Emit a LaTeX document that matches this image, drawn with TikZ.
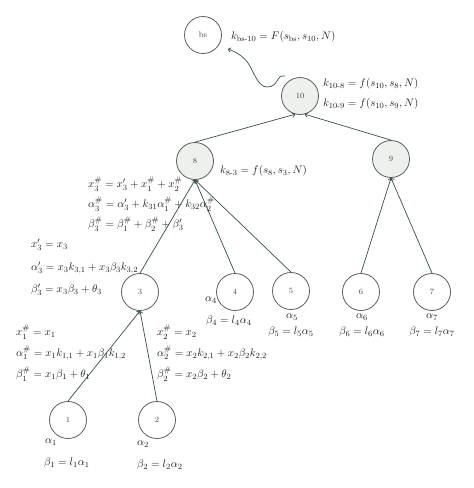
\documentclass[tikz,border=0pt]{standalone}
\usepackage{amsmath}
\usetikzlibrary{arrows.meta}
\definecolor{nodegray}{RGB}{90,95,95}
\definecolor{fillgray}{RGB}{238,240,238}
\definecolor{edgegreen}{RGB}{55,80,65}
\definecolor{textc}{RGB}{30,30,30}
\definecolor{numgray}{RGB}{70,70,70}
\begin{document}
\begin{tikzpicture}[x=1pt,y=-1pt,
  treenode/.style={circle,draw=nodegray,line width=0.8pt,minimum size=37pt,inner sep=0pt,font=\footnotesize,text=numgray},
  filled/.style={treenode,fill=fillgray},
  edge/.style={draw=edgegreen,line width=0.7pt,-{To[length=3pt,width=5pt]}},
  eq/.style={anchor=west,inner sep=0pt,font=\fontsize{11}{13}\selectfont,text=textc},
  eqc/.style={anchor=center,inner sep=0pt,font=\fontsize{11}{13}\selectfont,text=textc}]
\useasboundingbox (0,0) rectangle (474,488);
% nodes
\node[treenode] (bs) at (203,35) {bs};
\node[filled] (n10) at (300,96) {10};
\node[filled] (n8) at (195,161) {8};
\node[filled] (n9) at (391,159) {9};
\node[treenode] (n3) at (140,292) {3};
\node[treenode] (n4) at (235,292) {4};
\node[treenode] (n5) at (291,291) {5};
\node[treenode] (n6) at (361,292) {6};
\node[treenode] (n7) at (432,292) {7};
\node[treenode] (n1) at (68,420) {1};
\node[treenode] (n2) at (157,420) {2};
% edges
\draw[edge] (n1.north) -- (n3.south);
\draw[edge] (n2.north) -- (n3.south);
\draw[edge] (n3.north) -- (n8.south);
\draw[edge] (n4.north) -- (n8.south);
\draw[edge] (n5.north) -- (n8.south);
\draw[edge] (n6.north) -- (n9.south);
\draw[edge] (n7.north) -- (n9.south);
\draw[edge] (n8.north) -- (n10.255);
\draw[edge] (n9.north) -- (n10.285);
\coordinate (c10) at (285,76);
\coordinate (cbs) at (228,49);
\draw[edge] (c10) .. controls (276,74) and (279,87) .. (267,87)
  .. controls (258,87) and (254,72) .. (248,63)
  .. controls (243,56) and (236,52) .. (cbs);
% labels
\node[eq] (lbs) at (231,37) {$k_{\text{bs-}10} = F(s_{\text{bs}}, s_{10}, N)$};
\node[eq] (l108) at (323,84) {$k_{10\text{-}8} = f(s_{10}, s_8, N)$};
\node[eq] (l109) at (323,104) {$k_{10\text{-}9} = f(s_{10}, s_9, N)$};
\node[eq] (l83) at (220,171) {$k_{8\text{-}3} = f(s_8, s_3, N)$};
\node[eq] (a1) at (88,184) {$x_3^{\#} = x_3' + x_1^{\#} + x_2^{\#}$};
\node[eq] (a2) at (88,204) {$\alpha_3^{\#} = \alpha_3' + k_{31}\alpha_1^{\#} + k_{32}\alpha_2^{\#}$};
\node[eq] (a3) at (88,224) {$\beta_3^{\#} = \beta_1^{\#} + \beta_2^{\#} + \beta_3'$};
\node[eq] (b1) at (31,245) {$x_3' = x_3$};
\node[eq] (b2) at (31,268) {$\alpha_3' = x_3k_{3,1} + x_3\beta_3k_{3,2}$};
\node[eq] (b3) at (31,290) {$\beta_3' = x_3\beta_3 + \theta_3$};
\node[eq] (c1) at (16,332) {$x_1^{\#} = x_1$};
\node[eq] (c2) at (16,353) {$\alpha_1^{\#} = x_1k_{1,1} + x_1\beta_1k_{1,2}$};
\node[eq] (c3) at (16,374) {$\beta_1^{\#} = x_1\beta_1 + \theta_1$};
\node[eq] (d1) at (157,332) {$x_2^{\#} = x_2$};
\node[eq] (d2) at (157,353) {$\alpha_2^{\#} = x_2k_{2,1} + x_2\beta_2k_{2,2}$};
\node[eq] (d3) at (157,374) {$\beta_2^{\#} = x_2\beta_2 + \theta_2$};
\node[eq] (e1) at (45,442) {$\alpha_1$};
\node[eq] (e2) at (44,463) {$\beta_1 = l_1\alpha_1$};
\node[eq] (f1) at (137,444) {$\alpha_2$};
\node[eq] (f2) at (137,465) {$\beta_2 = l_2\alpha_2$};
\node[eq] (g1) at (205,300) {$\alpha_4$};
\node[eq] (g2) at (206,321) {$\beta_4 = l_4\alpha_4$};
\node[eqc] (h1) at (292,317) {$\alpha_5$};
\node[eqc] (h2) at (291,332) {$\beta_5 = l_5\alpha_5$};
\node[eqc] (i1) at (362,317) {$\alpha_6$};
\node[eqc] (i2) at (362,332) {$\beta_6 = l_6\alpha_6$};
\node[eqc] (j1) at (432,317) {$\alpha_7$};
\node[eqc] (j2) at (432,332) {$\beta_7 = l_7\alpha_7$};
\end{tikzpicture}
\end{document}
